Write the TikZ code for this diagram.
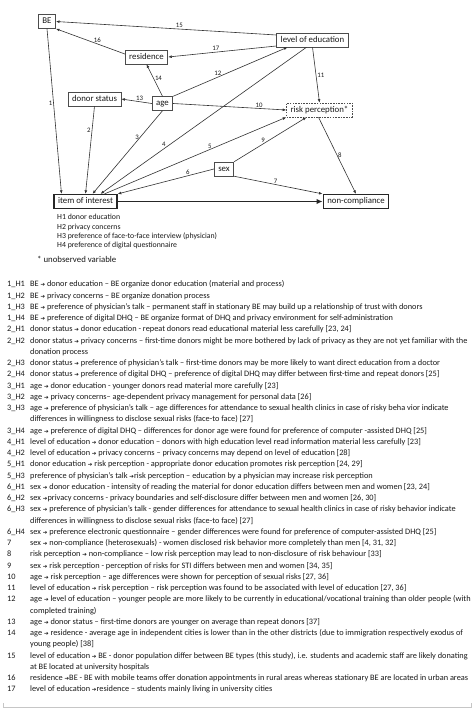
\documentclass[tikz,border=0pt]{standalone}
\usepackage{fontspec}
\setmainfont{Carlito}
\newfontfamily\symfont{DejaVu Sans}
\usetikzlibrary{arrows.meta}
\definecolor{boxgray}{gray}{0.3}
\definecolor{linegray}{gray}{0.2}
\definecolor{txt}{gray}{0.1}
\newcommand\myra{{\symfont\fontsize{5.5}{6}\selectfont ➔}}
\begin{document}
\begin{tikzpicture}[x=1pt,y=-1pt,
 box/.style={draw=boxgray, line width=0.7pt, inner xsep=4pt, inner ysep=2.75pt, text height=6.3pt, text depth=2pt, font=\fontsize{8.8}{10}\selectfont, text=txt},
 thickbox/.style={box, line width=1.4pt, draw=black!85},
 dashbox/.style={box, dash pattern=on 1.6pt off 1.1pt},
 arr/.style={draw=linegray, line width=0.6pt, -{Latex[length=3.6pt,width=2.8pt]}},
 bigarr/.style={draw=black!85, line width=1.5pt, -{Latex[length=6pt,width=5.5pt]}},
 lab/.style={font=\fontsize{6.8}{7}\selectfont, inner sep=1pt, text=txt}]
\fill[white] (0,0) rectangle (474,709);
\useasboundingbox (0,0) rectangle (474,709);

% nodes
\node[box] (BE) at (47,21.5) {BE};
\node[box] (loe) at (312.5,40) {level of education};
\node[box] (res) at (146.5,57) {residence};
\node[box] (ds) at (94.5,99) {donor status};
\node[box] (age) at (162.5,103.5) {age};
\node[dashbox] (risk) at (319.5,110) {risk perception*};
\node[box] (sex) at (224,169) {sex};
\node[thickbox] (item) at (85.5,201.5) {item of interest};
\node[thickbox] (nc) at (356,201.5) {non-compliance};

% connectors
\draw[arr] ([yshift=5pt]loe.west) -- node[lab,above,pos=.44] (l15) {15} (BE.east);
\draw[arr] ([yshift=3pt]res.west) -- node[lab,above,pos=.40] (l16) {16} (BE.south east);
\draw[arr] ([yshift=-6pt]loe.west) -- node[lab,above,pos=.56] (l17) {17} (res.east);
\draw[arr] (age.north east) -- node[lab,above,pos=.39] (l12) {12} ([xshift=-25pt]loe.south);
\draw[arr] (age.north) -- node[lab,right,pos=.55] (l14) {14} (res.south);
\draw[arr] (age.west) -- node[lab,above,pos=.4] (l13) {13} (ds.east);
\draw[arr] (age.east) -- node[lab,above,pos=.76] (l10) {10} (risk.west);
\draw[arr] (loe.south) -- node[lab,right,pos=.5] (l11) {11} (risk.north);
\draw[arr] (BE.south) -- node[lab,left,pos=.45] (l1) {1} ([xshift=-24pt]item.north);
\draw[arr] (ds.south) -- node[lab,left,pos=.28] (l2) {2} (item.north);
\draw[arr] (age.south) -- node[lab,left,pos=.32] (l3) {3} ([xshift=7pt]item.north);
\draw[arr] ([xshift=-6pt]loe.south) -- node[lab,above left,pos=.68,inner sep=0.5pt] (l4) {4} ([xshift=15pt]item.north);
\draw[arr] ([xshift=19pt]item.north) -- node[lab,above,pos=.58] (l5) {5} (risk.south west);
\draw[arr] (sex.north east) -- node[lab,above,pos=.4] (l9) {9} ([xshift=-13pt]risk.south);
\draw[arr] (sex.west) -- node[lab,above,pos=.27] (l6) {6} (item.north east);
\draw[arr] (sex.south east) -- node[lab,above,pos=.47] (l7) {7} (nc.north west);
\draw[arr] ([xshift=-1pt]risk.south) -- node[lab,right,pos=.49] (l8) {8} (nc.north);
\draw[bigarr] (item.east) -- (nc.west);

% H list
\node[anchor=north west, inner sep=0, text=txt, font=\fontsize{7.8}{9.3}\selectfont] (hlist) at (57,213.2) {\begin{tabular}{@{}l@{}}
H1 donor education\\
H2 privacy concerns\\
H3 preference of face-to-face interview (physician)\\
H4 preference of digital questionnaire
\end{tabular}};
\node[anchor=base west, inner sep=0, text=txt, font=\fontsize{8.8}{10}\selectfont] (unobs) at (37,262) {* unobserved variable};

% legend
\node[anchor=north west, inner sep=0, text=txt, font=\fontsize{8.3}{11.25}\selectfont] (legend) at (7,278.9) {\begin{tabular}{@{}p{23pt}@{}l@{}}
1\_H1 & BE \myra{} donor education – BE organize donor education (material and process)\\
1\_H2 & BE \myra{} privacy concerns – BE organize donation process\\
1\_H3 & BE \myra{} preference of physician’s talk – permanent staff in stationary BE may build up a relationship of trust with donors\\
1\_H4 & BE \myra{} preference of digital DHQ – BE organize format of DHQ and privacy environment for self-administration\\
2\_H1 & donor status \myra{} donor education - repeat donors read educational material less carefully [23, 24]\\
2\_H2 & donor status \myra{} privacy concerns – first-time donors might be more bothered by lack of privacy as they are not yet familiar with the\\
 & donation process\\
2\_H3 & donor status \myra{} preference of physician’s talk – first-time donors may be more likely to want direct education from a doctor\\
2\_H4 & donor status \myra{} preference of digital DHQ – preference of digital DHQ may differ between first-time and repeat donors [25]\\
3\_H1 & age \myra{} donor education - younger donors read material more carefully [23]\\
3\_H2 & age \myra{} privacy concerns– age-dependent privacy management for personal data [26]\\
3\_H3 & age \myra{} preference of physician’s talk – age differences for attendance to sexual health clinics in case of risky beha vior indicate\\
 & differences in willingness to disclose sexual risks (face-to face) [27]\\
3\_H4 & age \myra{} preference of digital DHQ – differences for donor age were found for preference of computer -assisted DHQ [25]\\
4\_H1 & level of education \myra{} donor education – donors with high education level read information material less carefully [23]\\
4\_H2 & level of education \myra{} privacy concerns – privacy concerns may depend on level of education [28]\\
5\_H1 & donor education \myra{} risk perception - appropriate donor education promotes risk perception [24, 29]\\
5\_H3 & preference of physician’s talk \myra{}risk perception – education by a physician may increase risk perception\\
6\_H1 & sex \myra{} donor education - intensity of reading the material for donor education differs between men and women [23, 24]\\
6\_H2 & sex \myra{}privacy concerns - privacy boundaries and self-disclosure differ between men and women [26, 30]\\
6\_H3 & sex \myra{} preference of physician’s talk - gender differences for attendance to sexual health clinics in case of risky behavior indicate\\
 & differences in willingness to disclose sexual risks (face-to face) [27]\\
6\_H4 & sex \myra{} preference electronic questionnaire – gender differences were found for preference of computer-assisted DHQ [25]\\
7 & sex \myra{} non-compliance (heterosexuals) - women disclosed risk behavior more completely than men [4, 31, 32]\\
8 & risk perception \myra{} non-compliance – low risk perception may lead to non-disclosure of risk behaviour [33]\\
9 & sex \myra{} risk perception - perception of risks for STI differs between men and women [34, 35]\\
10 & age \myra{} risk perception – age differences were shown for perception of sexual risks [27, 36]\\
11 & level of education \myra{} risk perception – risk perception was found to be associated with level of education [27, 36]\\
12 & age \myra{} level of education – younger people are more likely to be currently in educational/vocational training than older people (with\\
 & completed training)\\
13 & age \myra{} donor status – first-time donors are younger on average than repeat donors [37]\\
14 & age \myra{} residence - average age in independent cities is lower than in the other districts (due to immigration respectively exodus of\\
 & young people) [38]\\
15 & level of education \myra{} BE - donor population differ between BE types (this study), i.e. students and academic staff are likely donating\\
 & at BE located at university hospitals\\
16 & residence \myra{}BE - BE with mobile teams offer donation appointments in rural areas whereas stationary BE are located in urban areas\\
17 & level of education \myra{}residence – students mainly living in university cities
\end{tabular}};

\draw[gray!45, line width=0.5pt] (3,703) -- (3,707) -- (471,707) -- (471,703);
\end{tikzpicture}
\end{document}
